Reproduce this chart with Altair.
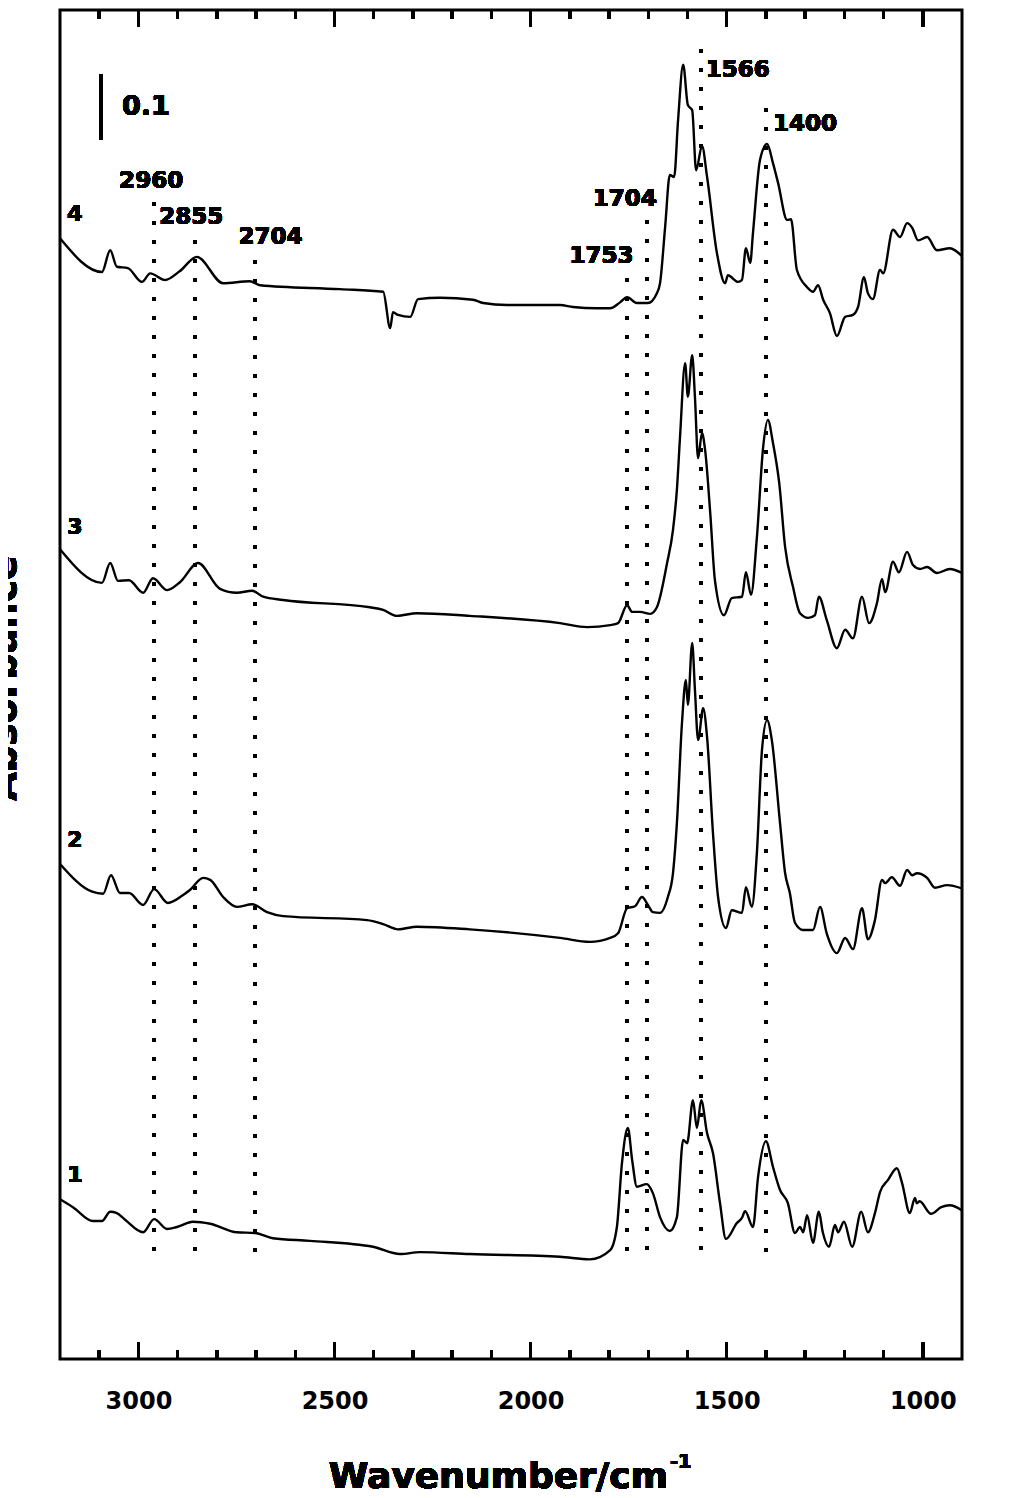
import altair as alt
import pandas as pd

# ---- data (wavenumber / cm-1, absorbance with offsets) ----
spectrum_4 = [
    (3200, 1.695), (3093, 1.644), (3072, 1.677), (3055, 1.652), (3027, 1.650), (2991, 1.629),
    (2970, 1.642), (2932, 1.632), (2895, 1.645), (2851, 1.667), (2784, 1.627), (2716, 1.630),
    (2690, 1.624), (2486, 1.618), (2376, 1.614), (2358, 1.559), (2351, 1.583), (2338, 1.579),
    (2307, 1.576), (2287, 1.603), (2231, 1.605), (2147, 1.602), (2121, 1.597), (2060, 1.594),
    (1925, 1.594), (1892, 1.591), (1831, 1.589), (1797, 1.589), (1772, 1.598), (1754, 1.606),
    (1729, 1.597), (1701, 1.597), (1678, 1.612), (1670, 1.627), (1657, 1.712), (1645, 1.791),
    (1634, 1.788), (1624, 1.874), (1611, 1.958), (1599, 1.897), (1588, 1.889), (1578, 1.798),
    (1563, 1.835), (1550, 1.788), (1525, 1.673), (1504, 1.627), (1497, 1.639), (1471, 1.629),
    (1461, 1.632), (1451, 1.680), (1440, 1.658), (1433, 1.703), (1415, 1.814), (1397, 1.838),
    (1382, 1.809), (1369, 1.779), (1346, 1.723), (1336, 1.724), (1321, 1.647), (1295, 1.621),
    (1280, 1.614), (1267, 1.624), (1254, 1.602), (1237, 1.582), (1219, 1.547), (1198, 1.576),
    (1178, 1.579), (1165, 1.591), (1150, 1.636), (1140, 1.612), (1127, 1.603), (1109, 1.647),
    (1101, 1.642), (1076, 1.708), (1058, 1.697), (1040, 1.718), (1027, 1.711), (1012, 1.692),
    (989, 1.697), (964, 1.677), (931, 1.680), (900, 1.668),
]

spectrum_3 = [
    (3200, 1.224), (3093, 1.173), (3072, 1.203), (3052, 1.176), (3024, 1.177), (2988, 1.158),
    (2963, 1.180), (2927, 1.162), (2894, 1.174), (2848, 1.203), (2792, 1.164), (2749, 1.158),
    (2710, 1.161), (2682, 1.152), (2631, 1.147), (2410, 1.136), (2376, 1.132), (2341, 1.123),
    (2290, 1.127), (2155, 1.123), (1925, 1.112), (1856, 1.106), (1797, 1.109), (1777, 1.112),
    (1754, 1.139), (1741, 1.129), (1721, 1.129), (1695, 1.126), (1678, 1.136), (1652, 1.203),
    (1637, 1.253), (1627, 1.314), (1619, 1.394), (1606, 1.506), (1599, 1.455), (1588, 1.518),
    (1581, 1.455), (1573, 1.362), (1563, 1.400), (1555, 1.374), (1542, 1.279), (1530, 1.177),
    (1507, 1.124), (1487, 1.150), (1461, 1.152), (1451, 1.189), (1438, 1.155), (1423, 1.242),
    (1407, 1.379), (1395, 1.420), (1382, 1.385), (1366, 1.324), (1351, 1.227), (1331, 1.167),
    (1313, 1.127), (1292, 1.120), (1275, 1.124), (1265, 1.152), (1245, 1.117), (1219, 1.074),
    (1198, 1.102), (1178, 1.089), (1155, 1.152), (1137, 1.112), (1117, 1.142), (1104, 1.179),
    (1096, 1.159), (1076, 1.205), (1061, 1.189), (1040, 1.220), (1025, 1.200), (1007, 1.194),
    (989, 1.197), (964, 1.188), (931, 1.194), (900, 1.188),
]

spectrum_2 = [
    (3200, 0.747), (3118, 0.705), (3090, 0.702), (3070, 0.730), (3047, 0.703), (3024, 0.703),
    (2988, 0.685), (2960, 0.709), (2925, 0.688), (2886, 0.700), (2868, 0.708), (2835, 0.726),
    (2817, 0.723), (2784, 0.697), (2749, 0.682), (2710, 0.686), (2672, 0.674), (2631, 0.668),
    (2417, 0.662), (2376, 0.656), (2338, 0.648), (2290, 0.652), (2155, 0.648), (1925, 0.635),
    (1849, 0.629), (1797, 0.635), (1777, 0.642), (1754, 0.680), (1734, 0.683), (1716, 0.697),
    (1701, 0.685), (1688, 0.674), (1670, 0.673), (1650, 0.697), (1637, 0.733), (1627, 0.809),
    (1614, 0.961), (1604, 1.026), (1599, 0.988), (1588, 1.082), (1581, 1.011), (1573, 0.935),
    (1560, 0.983), (1550, 0.939), (1535, 0.794), (1522, 0.697), (1502, 0.650), (1487, 0.677),
    (1461, 0.673), (1451, 0.712), (1436, 0.682), (1423, 0.764), (1410, 0.920), (1397, 0.965),
    (1385, 0.935), (1364, 0.809), (1351, 0.733), (1339, 0.703), (1326, 0.658), (1305, 0.647),
    (1280, 0.647), (1262, 0.682), (1245, 0.642), (1219, 0.612), (1198, 0.635), (1178, 0.618),
    (1155, 0.680), (1140, 0.633), (1122, 0.662), (1104, 0.723), (1096, 0.718), (1079, 0.727),
    (1058, 0.714), (1040, 0.738), (1027, 0.730), (1015, 0.733), (989, 0.726), (969, 0.711),
    (938, 0.715), (900, 0.710),
]

spectrum_1 = [
    (3200, 0.239), (3167, 0.227), (3116, 0.206), (3093, 0.206), (3072, 0.220), (3055, 0.218),
    (3034, 0.208), (2988, 0.189), (2960, 0.209), (2927, 0.194), (2902, 0.197), (2861, 0.205),
    (2817, 0.202), (2749, 0.189), (2703, 0.188), (2657, 0.180), (2563, 0.176), (2402, 0.167),
    (2333, 0.156), (2282, 0.159), (2155, 0.156), (1925, 0.152), (1849, 0.148), (1797, 0.162),
    (1780, 0.197), (1767, 0.294), (1752, 0.347), (1741, 0.298), (1729, 0.258), (1704, 0.262),
    (1688, 0.248), (1670, 0.212), (1645, 0.191), (1627, 0.212), (1611, 0.329), (1601, 0.324),
    (1586, 0.389), (1576, 0.347), (1565, 0.389), (1550, 0.339), (1535, 0.309), (1517, 0.233),
    (1502, 0.179), (1474, 0.203), (1461, 0.211), (1453, 0.221), (1433, 0.197), (1420, 0.273),
    (1400, 0.327), (1382, 0.288), (1364, 0.253), (1344, 0.233), (1326, 0.188), (1313, 0.197),
    (1305, 0.189), (1295, 0.215), (1280, 0.173), (1265, 0.220), (1255, 0.189), (1239, 0.167),
    (1224, 0.200), (1216, 0.189), (1201, 0.205), (1180, 0.167), (1157, 0.220), (1140, 0.189),
    (1122, 0.218), (1109, 0.250), (1089, 0.268), (1066, 0.286), (1053, 0.264), (1033, 0.218),
    (1020, 0.241), (1015, 0.233), (1008, 0.236), (979, 0.217), (953, 0.227), (931, 0.230),
    (900, 0.222),
]

series_names = ["1", "2", "3", "4"]
series_data = [spectrum_1, spectrum_2, spectrum_3, spectrum_4]

marker_wavenumbers = [2960, 2855, 2704, 1753, 1704, 1566, 1400]
major_ticks = [1000, 1500, 2000, 2500, 3000]
minor_ticks = [1100, 1200, 1300, 1400, 1600, 1700, 1800, 1900, 2100, 2200, 2300, 2400,
               2600, 2700, 2800, 2900, 3100]
scale_bar = (3095, 1.844, 0.1)  # position (wavenumber, absorbance) and length

rows = []
for name, pts in zip(series_names, series_data):
    for w, a in pts:
        rows.append({"series": name, "wavenumber": w, "absorbance": a})
df = pd.DataFrame(rows)

# ---- layout / style ----
W, H = 902, 1349
FONT = "DejaVu Sans"
xscale = alt.Scale(domain=[3200, 900], nice=False, zero=False)
yscale = alt.Scale(domain=[-0.003, 2.041], nice=False, zero=False)

lines = alt.Chart(df).mark_line(color="black", strokeWidth=2.4, strokeJoin="round",
                                interpolate="monotone").encode(
    x=alt.X("wavenumber:Q", scale=xscale,
            axis=alt.Axis(values=major_ticks, format="d", domain=False, ticks=False, tickSize=0,
                          grid=False, labelFont=FONT, labelFontWeight="bold", labelFontSize=24,
                          labelColor="black", labelPadding=30, labelFlush=False, title=None)),
    y=alt.Y("absorbance:Q", scale=yscale, axis=None),
    detail="series:N",
)

layers = [lines]

# dotted marker lines
marker_tops = {2960: 192, 2855: 230, 2704: 250, 1753: 268, 1704: 210, 1566: 39, 1400: 98}
for w in marker_wavenumbers:
    layers.append(
        alt.Chart(df).mark_rule(color="black", strokeWidth=3, strokeDash=[4, 15]).encode(
            x=alt.datum(w), y=alt.value(marker_tops[w]), y2=alt.value(1245)
        )
    )

# marker labels
label_pos = {2960: (-3, 171), 2855: (-4, 207), 2704: (16, 227), 1753: (-26, 246),
             1704: (-22, 189), 1566: (37, 60), 1400: (39, 114)}
for w in marker_wavenumbers:
    dx, yy = label_pos[w]
    layers.append(
        alt.Chart(df).mark_text(text=str(w), font=FONT, fontWeight="bold", fontSize=23,
                                align="center", baseline="middle", dx=dx, color="black").encode(
            x=alt.datum(w), y=alt.value(yy)
        )
    )

# ticks (inward) on bottom and top
for vals, length in [(major_ticks, 17), (minor_ticks, 9)]:
    for t in vals:
        layers.append(alt.Chart(df).mark_rule(color="black", strokeWidth=2.5).encode(
            x=alt.datum(t), y=alt.value(H), y2=alt.value(H - length)))
        layers.append(alt.Chart(df).mark_rule(color="black", strokeWidth=2.5).encode(
            x=alt.datum(t), y=alt.value(0), y2=alt.value(length)))

# scale bar
sb_w, sb_a, sb_len = scale_bar
layers.append(alt.Chart(df).mark_rule(color="black", strokeWidth=3.5).encode(
    x=alt.datum(sb_w), y=alt.datum(sb_a), y2=alt.datum(sb_a + sb_len)))
layers.append(alt.Chart(df).mark_text(text="0.1", font=FONT, fontWeight="bold", fontSize=27,
                                      align="left", baseline="middle", color="black").encode(
    x=alt.value(62), y=alt.value(97)))

# spectrum numbers
num_y = {"4": 204, "3": 517, "2": 830, "1": 1165}
for n in series_names:
    layers.append(alt.Chart(df).mark_text(text=n, font=FONT, fontWeight="bold", fontSize=22,
                                          align="center", baseline="middle", color="black").encode(
        x=alt.value(15), y=alt.value(num_y[n])))

# axis titles
layers.append(alt.Chart(df).mark_text(text="Absorbance", font=FONT, fontWeight="bold", fontSize=37,
                                      align="center", baseline="alphabetic", angle=270,
                                      color="black").encode(
    x=alt.value(-44), y=alt.value(668)))
layers.append(alt.Chart(df).mark_text(text="Wavenumber/cm", font=FONT, fontWeight="bold",
                                      fontSize=36, align="right", baseline="alphabetic",
                                      color="black").encode(
    x=alt.value(608), y=alt.value(1478)))
layers.append(alt.Chart(df).mark_text(text="-1", font=FONT, fontWeight="bold", fontSize=19,
                                      align="left", baseline="alphabetic", color="black").encode(
    x=alt.value(610), y=alt.value(1458)))

chart = alt.layer(*layers).properties(
    width=W, height=H,
    autosize=alt.AutoSizeParams(type="none"),
    padding={"left": 52, "top": 2, "right": 30, "bottom": 140},
).configure_view(stroke="black", strokeWidth=3)

chart.save("out.html", embed_options={"renderer": "svg", "actions": False})
